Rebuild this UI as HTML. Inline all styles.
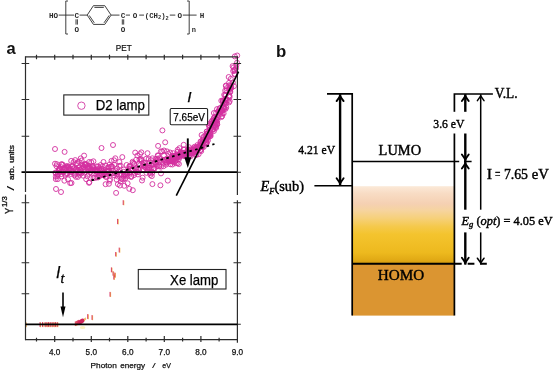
<!DOCTYPE html>
<html lang="en"><head><meta charset="utf-8"><title>PET photoemission yield</title>
<style>html,body{margin:0;padding:0;background:#fff}svg{display:block}.s{font-family:"Liberation Sans",sans-serif}.r{font-family:"Liberation Serif",serif}.m{font-family:"Liberation Mono",monospace;font-weight:bold}</style></head><body>
<svg width="553" height="370" viewBox="0 0 553 370">
<defs><linearGradient id="g" x1="0" y1="0" x2="0" y2="1"><stop offset="0" stop-color="#fbe9d8"/><stop offset="0.095" stop-color="#f8dcc4"/><stop offset="0.23" stop-color="#f5d0b2"/><stop offset="0.31" stop-color="#f6d4a0"/><stop offset="0.42" stop-color="#f6d078"/><stop offset="0.52" stop-color="#f5c94c"/><stop offset="0.62" stop-color="#f4c42e"/><stop offset="0.86" stop-color="#edb91e"/><stop offset="0.96" stop-color="#e0a814"/><stop offset="1" stop-color="#d69c10"/></linearGradient></defs>
<rect width="553" height="370" fill="#fff"/>
<g stroke="#2a2a2a" stroke-width="0.9" fill="none">
<path d="M58.7 15.1H74"/>
<path d="M68 1H65.8V34H68"/>
<path d="M79.5 15.1H87.2"/>
<path d="M87.2 15.1L93.4 5.7H104.8L111.1 15.1L104.8 24.4H93.4Z"/>
<path d="M94.4 7.4H103.8M109.2 15.4L104 22.8M89.2 15.4L94.3 22.8"/>
<path d="M111.1 15.1H119.5"/>
<path d="M76 19.3V24.6M77.4 19.3V24.6M122.3 19.3V24.6M123.7 19.3V24.6"/>
<path d="M125.8 15.1H130M139.2 15.1H144M169.8 15.1H175.3M182.8 15.1H196.6"/>
<path d="M187 1H189.2V34H187"/>
</g>
<g class="m" font-size="7.6" fill="#2a2a2a" text-anchor="middle">
<text x="53.6" y="17.6">HO</text>
<text x="76.7" y="17.6">C</text><text x="76.7" y="31.6">O</text>
<text x="123" y="17.6">C</text><text x="123" y="31.6">O</text>
<text x="135" y="17.6">O</text>
<text x="156.8" y="17.6" textLength="24" lengthAdjust="spacingAndGlyphs">(CH<tspan font-size="5.5" dy="1.5">2</tspan><tspan dy="-1.5">)</tspan><tspan font-size="5.5" dy="2">2</tspan></text>
<text x="179.9" y="17.6">O</text>
<text x="202" y="17.6">H</text>
<text x="193.8" y="32.4" font-size="7">n</text>
</g>
<g class="s" fill="#111">
<text x="6.5" y="53.8" font-size="16.5" font-weight="bold">a</text>
<text x="275.9" y="56.8" font-size="16.8" font-weight="bold">b</text>
<text x="123.8" y="50.6" font-size="8.2" text-anchor="middle" stroke="#111" stroke-width="0.2">PET</text>
<text x="54.7" y="354.6" font-size="8.2" text-anchor="middle" stroke="#111" stroke-width="0.25">4.0</text>
<text x="91.3" y="354.6" font-size="8.2" text-anchor="middle" stroke="#111" stroke-width="0.25">5.0</text>
<text x="127.8" y="354.6" font-size="8.2" text-anchor="middle" stroke="#111" stroke-width="0.25">6.0</text>
<text x="164.3" y="354.6" font-size="8.2" text-anchor="middle" stroke="#111" stroke-width="0.25">7.0</text>
<text x="200.9" y="354.6" font-size="8.2" text-anchor="middle" stroke="#111" stroke-width="0.25">8.0</text>
<text x="237.4" y="354.6" font-size="8.2" text-anchor="middle" stroke="#111" stroke-width="0.25">9.0</text>
<g font-size="8.1" stroke="#111" stroke-width="0.25">
<text x="90.5" y="367.9" textLength="26.3" lengthAdjust="spacingAndGlyphs">Photon</text>
<text x="120.2" y="367.9" textLength="24.9" lengthAdjust="spacingAndGlyphs">energy</text>
<text x="152" y="367.9" textLength="3.8" lengthAdjust="spacingAndGlyphs" stroke-width="0">/</text>
<text x="162.3" y="367.9" textLength="8.6" lengthAdjust="spacingAndGlyphs">eV</text>
</g>
<g transform="translate(13.6,213.9) rotate(-90)" stroke="#111" stroke-width="0.3">
<text x="-0.2" y="-1.1" font-size="10.4" textLength="6.3" lengthAdjust="spacingAndGlyphs">Y</text>
<text x="6.9" y="-7.1" font-size="8" textLength="10.8" lengthAdjust="spacingAndGlyphs">1/3</text>
<text x="23.1" y="-0.1" font-size="9.6" textLength="5" stroke-width="0" lengthAdjust="spacingAndGlyphs">/</text>
<text x="33.9" y="0" font-size="6.4" textLength="14" lengthAdjust="spacingAndGlyphs">arb.</text>
<text x="51.2" y="0" font-size="6.4" textLength="17.5" lengthAdjust="spacingAndGlyphs">units</text>
</g>
</g>
<g fill="none" stroke="#d4309f" stroke-width="0.9">
<circle cx="55.0" cy="163.7" r="2.5"/>
<circle cx="55.4" cy="172.6" r="2.5"/>
<circle cx="56.0" cy="173.2" r="2.5"/>
<circle cx="55.8" cy="176.7" r="2.5"/>
<circle cx="55.8" cy="179.1" r="2.5"/>
<circle cx="57.3" cy="176.0" r="2.5"/>
<circle cx="56.5" cy="166.2" r="2.5"/>
<circle cx="56.9" cy="164.2" r="2.5"/>
<circle cx="57.8" cy="179.1" r="2.5"/>
<circle cx="57.7" cy="174.4" r="2.5"/>
<circle cx="58.6" cy="170.4" r="2.5"/>
<circle cx="58.8" cy="171.1" r="2.5"/>
<circle cx="59.4" cy="172.7" r="2.5"/>
<circle cx="58.9" cy="169.6" r="2.5"/>
<circle cx="59.5" cy="168.1" r="2.5"/>
<circle cx="59.5" cy="169.6" r="2.5"/>
<circle cx="59.9" cy="169.1" r="2.5"/>
<circle cx="61.0" cy="167.1" r="2.5"/>
<circle cx="61.3" cy="164.3" r="2.5"/>
<circle cx="61.2" cy="174.1" r="2.5"/>
<circle cx="61.4" cy="176.4" r="2.5"/>
<circle cx="61.6" cy="171.2" r="2.5"/>
<circle cx="62.1" cy="164.3" r="2.5"/>
<circle cx="63.4" cy="172.1" r="2.5"/>
<circle cx="63.0" cy="171.4" r="2.5"/>
<circle cx="62.9" cy="164.9" r="2.5"/>
<circle cx="64.4" cy="180.7" r="2.5"/>
<circle cx="64.6" cy="151.9" r="2.5"/>
<circle cx="64.2" cy="169.1" r="2.5"/>
<circle cx="65.2" cy="168.7" r="2.5"/>
<circle cx="64.7" cy="168.5" r="2.5"/>
<circle cx="65.2" cy="174.8" r="2.5"/>
<circle cx="66.4" cy="166.4" r="2.5"/>
<circle cx="66.3" cy="167.5" r="2.5"/>
<circle cx="67.1" cy="173.1" r="2.5"/>
<circle cx="66.6" cy="168.1" r="2.5"/>
<circle cx="66.9" cy="174.1" r="2.5"/>
<circle cx="68.0" cy="179.3" r="2.5"/>
<circle cx="67.4" cy="166.1" r="2.5"/>
<circle cx="67.9" cy="167.2" r="2.5"/>
<circle cx="68.7" cy="169.5" r="2.5"/>
<circle cx="68.6" cy="166.6" r="2.5"/>
<circle cx="69.4" cy="170.4" r="2.5"/>
<circle cx="69.8" cy="168.7" r="2.5"/>
<circle cx="69.4" cy="168.4" r="2.5"/>
<circle cx="70.2" cy="183.1" r="2.5"/>
<circle cx="70.7" cy="174.0" r="2.5"/>
<circle cx="70.8" cy="172.1" r="2.5"/>
<circle cx="71.5" cy="183.0" r="2.5"/>
<circle cx="71.2" cy="160.9" r="2.5"/>
<circle cx="72.2" cy="171.9" r="2.5"/>
<circle cx="71.8" cy="171.1" r="2.5"/>
<circle cx="72.5" cy="166.6" r="2.5"/>
<circle cx="72.5" cy="166.0" r="2.5"/>
<circle cx="73.6" cy="162.1" r="2.5"/>
<circle cx="74.1" cy="168.2" r="2.5"/>
<circle cx="74.5" cy="175.3" r="2.5"/>
<circle cx="74.3" cy="168.2" r="2.5"/>
<circle cx="74.9" cy="173.7" r="2.5"/>
<circle cx="75.2" cy="160.1" r="2.5"/>
<circle cx="76.0" cy="169.1" r="2.5"/>
<circle cx="76.0" cy="169.4" r="2.5"/>
<circle cx="76.0" cy="163.9" r="2.5"/>
<circle cx="75.9" cy="176.8" r="2.5"/>
<circle cx="76.7" cy="170.9" r="2.5"/>
<circle cx="77.3" cy="169.5" r="2.5"/>
<circle cx="77.1" cy="163.2" r="2.5"/>
<circle cx="77.9" cy="176.9" r="2.5"/>
<circle cx="78.6" cy="161.6" r="2.5"/>
<circle cx="78.1" cy="169.9" r="2.5"/>
<circle cx="79.2" cy="167.4" r="2.5"/>
<circle cx="78.8" cy="173.3" r="2.5"/>
<circle cx="79.1" cy="171.8" r="2.5"/>
<circle cx="79.6" cy="174.8" r="2.5"/>
<circle cx="80.7" cy="172.2" r="2.5"/>
<circle cx="80.0" cy="170.0" r="2.5"/>
<circle cx="80.7" cy="158.4" r="2.5"/>
<circle cx="81.4" cy="173.3" r="2.5"/>
<circle cx="81.3" cy="168.7" r="2.5"/>
<circle cx="81.6" cy="160.5" r="2.5"/>
<circle cx="82.0" cy="164.4" r="2.5"/>
<circle cx="82.6" cy="165.7" r="2.5"/>
<circle cx="83.2" cy="167.4" r="2.5"/>
<circle cx="83.6" cy="166.6" r="2.5"/>
<circle cx="83.1" cy="175.7" r="2.5"/>
<circle cx="84.1" cy="155.6" r="2.5"/>
<circle cx="84.6" cy="169.5" r="2.5"/>
<circle cx="84.8" cy="172.7" r="2.5"/>
<circle cx="84.7" cy="164.6" r="2.5"/>
<circle cx="85.3" cy="164.1" r="2.5"/>
<circle cx="86.0" cy="164.0" r="2.5"/>
<circle cx="85.4" cy="164.9" r="2.5"/>
<circle cx="86.2" cy="179.2" r="2.5"/>
<circle cx="87.1" cy="167.4" r="2.5"/>
<circle cx="87.3" cy="165.9" r="2.5"/>
<circle cx="87.3" cy="176.2" r="2.5"/>
<circle cx="88.0" cy="168.9" r="2.5"/>
<circle cx="88.2" cy="168.0" r="2.5"/>
<circle cx="88.9" cy="173.9" r="2.5"/>
<circle cx="89.0" cy="182.8" r="2.5"/>
<circle cx="88.8" cy="165.9" r="2.5"/>
<circle cx="89.3" cy="182.2" r="2.5"/>
<circle cx="89.1" cy="162.0" r="2.5"/>
<circle cx="89.5" cy="168.2" r="2.5"/>
<circle cx="90.7" cy="172.2" r="2.5"/>
<circle cx="90.3" cy="167.9" r="2.5"/>
<circle cx="91.3" cy="162.2" r="2.5"/>
<circle cx="91.4" cy="170.2" r="2.5"/>
<circle cx="91.8" cy="173.4" r="2.5"/>
<circle cx="92.3" cy="170.4" r="2.5"/>
<circle cx="92.5" cy="166.8" r="2.5"/>
<circle cx="92.6" cy="166.0" r="2.5"/>
<circle cx="93.5" cy="178.0" r="2.5"/>
<circle cx="93.4" cy="161.3" r="2.5"/>
<circle cx="93.8" cy="167.8" r="2.5"/>
<circle cx="93.5" cy="169.6" r="2.5"/>
<circle cx="94.8" cy="177.8" r="2.5"/>
<circle cx="94.8" cy="169.9" r="2.5"/>
<circle cx="95.0" cy="170.5" r="2.5"/>
<circle cx="96.0" cy="169.3" r="2.5"/>
<circle cx="95.7" cy="170.5" r="2.5"/>
<circle cx="96.6" cy="177.5" r="2.5"/>
<circle cx="96.6" cy="166.4" r="2.5"/>
<circle cx="96.4" cy="172.0" r="2.5"/>
<circle cx="96.8" cy="171.5" r="2.5"/>
<circle cx="97.3" cy="170.1" r="2.5"/>
<circle cx="98.1" cy="166.5" r="2.5"/>
<circle cx="98.2" cy="177.4" r="2.5"/>
<circle cx="98.4" cy="171.3" r="2.5"/>
<circle cx="98.8" cy="175.0" r="2.5"/>
<circle cx="99.4" cy="168.1" r="2.5"/>
<circle cx="99.6" cy="170.7" r="2.5"/>
<circle cx="99.6" cy="175.9" r="2.5"/>
<circle cx="100.6" cy="165.1" r="2.5"/>
<circle cx="101.1" cy="175.3" r="2.5"/>
<circle cx="101.5" cy="168.5" r="2.5"/>
<circle cx="101.5" cy="173.6" r="2.5"/>
<circle cx="101.1" cy="169.4" r="2.5"/>
<circle cx="101.5" cy="174.2" r="2.5"/>
<circle cx="102.5" cy="166.3" r="2.5"/>
<circle cx="103.1" cy="175.1" r="2.5"/>
<circle cx="102.5" cy="171.8" r="2.5"/>
<circle cx="103.5" cy="162.0" r="2.5"/>
<circle cx="103.1" cy="171.0" r="2.5"/>
<circle cx="104.0" cy="172.6" r="2.5"/>
<circle cx="103.9" cy="172.4" r="2.5"/>
<circle cx="105.2" cy="172.9" r="2.5"/>
<circle cx="104.5" cy="174.9" r="2.5"/>
<circle cx="105.6" cy="184.2" r="2.5"/>
<circle cx="105.6" cy="176.7" r="2.5"/>
<circle cx="105.4" cy="165.5" r="2.5"/>
<circle cx="106.8" cy="170.9" r="2.5"/>
<circle cx="106.6" cy="174.0" r="2.5"/>
<circle cx="106.6" cy="177.0" r="2.5"/>
<circle cx="107.7" cy="170.5" r="2.5"/>
<circle cx="108.1" cy="171.4" r="2.5"/>
<circle cx="108.0" cy="167.5" r="2.5"/>
<circle cx="108.7" cy="167.3" r="2.5"/>
<circle cx="109.1" cy="170.8" r="2.5"/>
<circle cx="108.9" cy="183.8" r="2.5"/>
<circle cx="109.7" cy="180.7" r="2.5"/>
<circle cx="109.6" cy="164.5" r="2.5"/>
<circle cx="110.0" cy="179.3" r="2.5"/>
<circle cx="110.3" cy="172.9" r="2.5"/>
<circle cx="111.4" cy="166.6" r="2.5"/>
<circle cx="111.0" cy="166.6" r="2.5"/>
<circle cx="111.5" cy="160.9" r="2.5"/>
<circle cx="112.2" cy="166.5" r="2.5"/>
<circle cx="111.8" cy="173.5" r="2.5"/>
<circle cx="113.0" cy="145.0" r="2.5"/>
<circle cx="112.8" cy="170.6" r="2.5"/>
<circle cx="113.0" cy="173.3" r="2.5"/>
<circle cx="113.9" cy="175.2" r="2.5"/>
<circle cx="114.3" cy="164.8" r="2.5"/>
<circle cx="114.1" cy="160.3" r="2.5"/>
<circle cx="115.3" cy="158.3" r="2.5"/>
<circle cx="115.4" cy="173.4" r="2.5"/>
<circle cx="115.8" cy="170.6" r="2.5"/>
<circle cx="116.1" cy="192.9" r="2.5"/>
<circle cx="116.7" cy="179.7" r="2.5"/>
<circle cx="117.0" cy="168.4" r="2.5"/>
<circle cx="117.6" cy="176.5" r="2.5"/>
<circle cx="117.1" cy="174.1" r="2.5"/>
<circle cx="118.4" cy="171.7" r="2.5"/>
<circle cx="117.9" cy="184.1" r="2.5"/>
<circle cx="119.4" cy="162.0" r="2.5"/>
<circle cx="119.2" cy="174.6" r="2.5"/>
<circle cx="119.3" cy="165.9" r="2.5"/>
<circle cx="119.9" cy="185.5" r="2.5"/>
<circle cx="120.7" cy="165.7" r="2.5"/>
<circle cx="120.7" cy="181.5" r="2.5"/>
<circle cx="120.6" cy="174.7" r="2.5"/>
<circle cx="121.7" cy="178.8" r="2.5"/>
<circle cx="121.6" cy="178.7" r="2.5"/>
<circle cx="122.3" cy="157.1" r="2.5"/>
<circle cx="123.2" cy="179.5" r="2.5"/>
<circle cx="123.5" cy="171.8" r="2.5"/>
<circle cx="123.5" cy="176.2" r="2.5"/>
<circle cx="123.8" cy="169.6" r="2.5"/>
<circle cx="124.3" cy="185.8" r="2.5"/>
<circle cx="125.1" cy="174.2" r="2.5"/>
<circle cx="125.4" cy="178.2" r="2.5"/>
<circle cx="125.2" cy="174.1" r="2.5"/>
<circle cx="125.2" cy="174.3" r="2.5"/>
<circle cx="126.3" cy="175.1" r="2.5"/>
<circle cx="126.6" cy="173.3" r="2.5"/>
<circle cx="126.6" cy="165.0" r="2.5"/>
<circle cx="127.6" cy="172.4" r="2.5"/>
<circle cx="127.7" cy="176.1" r="2.5"/>
<circle cx="127.6" cy="183.3" r="2.5"/>
<circle cx="128.2" cy="170.6" r="2.5"/>
<circle cx="129.3" cy="188.8" r="2.5"/>
<circle cx="129.6" cy="166.0" r="2.5"/>
<circle cx="129.3" cy="166.8" r="2.5"/>
<circle cx="129.3" cy="172.5" r="2.5"/>
<circle cx="130.2" cy="168.7" r="2.5"/>
<circle cx="130.1" cy="166.4" r="2.5"/>
<circle cx="131.2" cy="177.0" r="2.5"/>
<circle cx="131.6" cy="169.3" r="2.5"/>
<circle cx="131.3" cy="176.3" r="2.5"/>
<circle cx="131.7" cy="169.6" r="2.5"/>
<circle cx="132.6" cy="161.8" r="2.5"/>
<circle cx="132.8" cy="190.2" r="2.5"/>
<circle cx="133.0" cy="162.9" r="2.5"/>
<circle cx="134.1" cy="163.9" r="2.5"/>
<circle cx="133.9" cy="175.2" r="2.5"/>
<circle cx="134.3" cy="164.1" r="2.5"/>
<circle cx="134.9" cy="172.8" r="2.5"/>
<circle cx="135.2" cy="152.6" r="2.5"/>
<circle cx="135.9" cy="168.3" r="2.5"/>
<circle cx="135.9" cy="169.5" r="2.5"/>
<circle cx="136.4" cy="171.7" r="2.5"/>
<circle cx="136.2" cy="159.7" r="2.5"/>
<circle cx="137.4" cy="155.6" r="2.5"/>
<circle cx="137.9" cy="174.4" r="2.5"/>
<circle cx="138.0" cy="172.2" r="2.5"/>
<circle cx="137.9" cy="169.1" r="2.5"/>
<circle cx="138.9" cy="164.1" r="2.5"/>
<circle cx="138.8" cy="169.9" r="2.5"/>
<circle cx="139.5" cy="159.5" r="2.5"/>
<circle cx="140.0" cy="154.1" r="2.5"/>
<circle cx="140.0" cy="165.2" r="2.5"/>
<circle cx="140.8" cy="159.3" r="2.5"/>
<circle cx="141.3" cy="152.4" r="2.5"/>
<circle cx="141.5" cy="161.0" r="2.5"/>
<circle cx="141.5" cy="159.4" r="2.5"/>
<circle cx="142.6" cy="177.7" r="2.5"/>
<circle cx="142.0" cy="180.5" r="2.5"/>
<circle cx="143.3" cy="165.4" r="2.5"/>
<circle cx="142.9" cy="169.2" r="2.5"/>
<circle cx="143.1" cy="164.2" r="2.5"/>
<circle cx="143.9" cy="162.8" r="2.5"/>
<circle cx="143.8" cy="169.8" r="2.5"/>
<circle cx="144.3" cy="167.0" r="2.5"/>
<circle cx="144.7" cy="166.4" r="2.5"/>
<circle cx="145.2" cy="162.7" r="2.5"/>
<circle cx="145.9" cy="167.3" r="2.5"/>
<circle cx="146.2" cy="158.8" r="2.5"/>
<circle cx="146.4" cy="172.8" r="2.5"/>
<circle cx="147.5" cy="153.2" r="2.5"/>
<circle cx="147.9" cy="167.3" r="2.5"/>
<circle cx="147.6" cy="169.6" r="2.5"/>
<circle cx="148.7" cy="159.0" r="2.5"/>
<circle cx="148.1" cy="165.7" r="2.5"/>
<circle cx="149.2" cy="163.0" r="2.5"/>
<circle cx="149.3" cy="167.8" r="2.5"/>
<circle cx="149.3" cy="167.8" r="2.5"/>
<circle cx="150.0" cy="173.0" r="2.5"/>
<circle cx="150.4" cy="174.9" r="2.5"/>
<circle cx="151.0" cy="165.6" r="2.5"/>
<circle cx="151.5" cy="168.1" r="2.5"/>
<circle cx="151.2" cy="160.2" r="2.5"/>
<circle cx="151.8" cy="176.1" r="2.5"/>
<circle cx="152.3" cy="172.7" r="2.5"/>
<circle cx="152.4" cy="158.3" r="2.5"/>
<circle cx="152.4" cy="184.1" r="2.5"/>
<circle cx="153.3" cy="168.5" r="2.5"/>
<circle cx="154.0" cy="168.3" r="2.5"/>
<circle cx="153.7" cy="164.1" r="2.5"/>
<circle cx="154.6" cy="168.6" r="2.5"/>
<circle cx="154.6" cy="162.2" r="2.5"/>
<circle cx="155.6" cy="159.1" r="2.5"/>
<circle cx="155.3" cy="162.9" r="2.5"/>
<circle cx="155.4" cy="162.3" r="2.5"/>
<circle cx="156.7" cy="162.1" r="2.5"/>
<circle cx="156.1" cy="164.0" r="2.5"/>
<circle cx="156.9" cy="160.6" r="2.5"/>
<circle cx="157.0" cy="166.1" r="2.5"/>
<circle cx="157.2" cy="158.7" r="2.5"/>
<circle cx="157.7" cy="155.4" r="2.5"/>
<circle cx="158.1" cy="145.9" r="2.5"/>
<circle cx="158.2" cy="155.7" r="2.5"/>
<circle cx="159.2" cy="166.4" r="2.5"/>
<circle cx="159.2" cy="165.0" r="2.5"/>
<circle cx="159.4" cy="158.2" r="2.5"/>
<circle cx="159.6" cy="161.5" r="2.5"/>
<circle cx="160.4" cy="185.3" r="2.5"/>
<circle cx="161.0" cy="173.4" r="2.5"/>
<circle cx="161.0" cy="166.7" r="2.5"/>
<circle cx="160.9" cy="151.4" r="2.5"/>
<circle cx="162.2" cy="151.5" r="2.5"/>
<circle cx="162.4" cy="130.4" r="2.5"/>
<circle cx="162.8" cy="159.9" r="2.5"/>
<circle cx="162.8" cy="163.5" r="2.5"/>
<circle cx="163.5" cy="166.2" r="2.5"/>
<circle cx="164.0" cy="155.4" r="2.5"/>
<circle cx="164.0" cy="150.5" r="2.5"/>
<circle cx="164.7" cy="159.8" r="2.5"/>
<circle cx="165.2" cy="142.3" r="2.5"/>
<circle cx="165.7" cy="159.9" r="2.5"/>
<circle cx="165.2" cy="161.7" r="2.5"/>
<circle cx="166.1" cy="164.6" r="2.5"/>
<circle cx="166.2" cy="162.5" r="2.5"/>
<circle cx="167.1" cy="158.6" r="2.5"/>
<circle cx="167.0" cy="162.7" r="2.5"/>
<circle cx="167.0" cy="151.4" r="2.5"/>
<circle cx="167.8" cy="180.6" r="2.5"/>
<circle cx="168.4" cy="159.0" r="2.5"/>
<circle cx="168.4" cy="160.9" r="2.5"/>
<circle cx="168.3" cy="153.8" r="2.5"/>
<circle cx="168.7" cy="161.4" r="2.5"/>
<circle cx="170.0" cy="160.1" r="2.5"/>
<circle cx="170.1" cy="152.5" r="2.5"/>
<circle cx="170.3" cy="161.0" r="2.5"/>
<circle cx="170.4" cy="164.3" r="2.5"/>
<circle cx="170.5" cy="158.4" r="2.5"/>
<circle cx="170.6" cy="159.2" r="2.5"/>
<circle cx="170.9" cy="160.1" r="2.5"/>
<circle cx="170.9" cy="160.7" r="2.5"/>
<circle cx="171.7" cy="161.2" r="2.5"/>
<circle cx="172.1" cy="155.8" r="2.5"/>
<circle cx="172.4" cy="164.5" r="2.5"/>
<circle cx="172.7" cy="161.2" r="2.5"/>
<circle cx="172.5" cy="157.6" r="2.5"/>
<circle cx="172.8" cy="159.4" r="2.5"/>
<circle cx="173.5" cy="156.3" r="2.5"/>
<circle cx="173.8" cy="160.2" r="2.5"/>
<circle cx="173.6" cy="162.3" r="2.5"/>
<circle cx="173.2" cy="153.2" r="2.5"/>
<circle cx="173.9" cy="159.5" r="2.5"/>
<circle cx="174.5" cy="156.7" r="2.5"/>
<circle cx="174.2" cy="157.5" r="2.5"/>
<circle cx="174.2" cy="156.0" r="2.5"/>
<circle cx="175.5" cy="161.0" r="2.5"/>
<circle cx="175.6" cy="158.1" r="2.5"/>
<circle cx="175.7" cy="155.4" r="2.5"/>
<circle cx="176.0" cy="157.4" r="2.5"/>
<circle cx="176.0" cy="156.2" r="2.5"/>
<circle cx="175.9" cy="163.3" r="2.5"/>
<circle cx="175.9" cy="156.5" r="2.5"/>
<circle cx="176.5" cy="160.0" r="2.5"/>
<circle cx="176.3" cy="154.7" r="2.5"/>
<circle cx="177.1" cy="157.5" r="2.5"/>
<circle cx="177.9" cy="151.6" r="2.5"/>
<circle cx="178.1" cy="156.5" r="2.5"/>
<circle cx="177.5" cy="163.3" r="2.5"/>
<circle cx="177.7" cy="149.8" r="2.5"/>
<circle cx="178.9" cy="164.0" r="2.5"/>
<circle cx="179.0" cy="155.0" r="2.5"/>
<circle cx="178.3" cy="154.9" r="2.5"/>
<circle cx="179.5" cy="148.2" r="2.5"/>
<circle cx="178.8" cy="159.2" r="2.5"/>
<circle cx="179.0" cy="157.3" r="2.5"/>
<circle cx="179.5" cy="154.7" r="2.5"/>
<circle cx="179.7" cy="155.7" r="2.5"/>
<circle cx="180.6" cy="156.4" r="2.5"/>
<circle cx="180.6" cy="153.3" r="2.5"/>
<circle cx="180.5" cy="152.0" r="2.5"/>
<circle cx="181.1" cy="153.5" r="2.5"/>
<circle cx="181.8" cy="153.7" r="2.5"/>
<circle cx="180.9" cy="152.7" r="2.5"/>
<circle cx="181.4" cy="154.4" r="2.5"/>
<circle cx="181.7" cy="155.0" r="2.5"/>
<circle cx="181.9" cy="153.1" r="2.5"/>
<circle cx="182.9" cy="153.5" r="2.5"/>
<circle cx="182.1" cy="154.8" r="2.5"/>
<circle cx="183.4" cy="154.5" r="2.5"/>
<circle cx="182.7" cy="152.6" r="2.5"/>
<circle cx="183.5" cy="153.3" r="2.5"/>
<circle cx="183.6" cy="149.5" r="2.5"/>
<circle cx="183.9" cy="155.7" r="2.5"/>
<circle cx="183.7" cy="144.8" r="2.5"/>
<circle cx="184.0" cy="149.8" r="2.5"/>
<circle cx="184.9" cy="156.1" r="2.5"/>
<circle cx="184.8" cy="154.2" r="2.5"/>
<circle cx="185.1" cy="152.5" r="2.5"/>
<circle cx="185.5" cy="156.1" r="2.5"/>
<circle cx="186.0" cy="154.2" r="2.5"/>
<circle cx="185.8" cy="153.7" r="2.5"/>
<circle cx="185.9" cy="153.8" r="2.5"/>
<circle cx="186.7" cy="153.6" r="2.5"/>
<circle cx="186.5" cy="152.6" r="2.5"/>
<circle cx="186.5" cy="154.9" r="2.5"/>
<circle cx="186.7" cy="154.2" r="2.5"/>
<circle cx="187.3" cy="151.7" r="2.5"/>
<circle cx="187.8" cy="152.8" r="2.5"/>
<circle cx="187.9" cy="152.9" r="2.5"/>
<circle cx="188.3" cy="149.5" r="2.5"/>
<circle cx="187.8" cy="151.3" r="2.5"/>
<circle cx="187.9" cy="150.1" r="2.5"/>
<circle cx="188.2" cy="153.0" r="2.5"/>
<circle cx="189.2" cy="147.3" r="2.5"/>
<circle cx="188.7" cy="152.7" r="2.5"/>
<circle cx="189.1" cy="156.1" r="2.5"/>
<circle cx="190.2" cy="152.7" r="2.5"/>
<circle cx="190.1" cy="153.1" r="2.5"/>
<circle cx="189.8" cy="152.1" r="2.5"/>
<circle cx="190.8" cy="154.3" r="2.5"/>
<circle cx="190.7" cy="149.3" r="2.5"/>
<circle cx="190.7" cy="156.2" r="2.5"/>
<circle cx="191.3" cy="153.4" r="2.5"/>
<circle cx="191.4" cy="152.3" r="2.5"/>
<circle cx="191.9" cy="149.9" r="2.5"/>
<circle cx="192.1" cy="152.0" r="2.5"/>
<circle cx="192.1" cy="150.9" r="2.5"/>
<circle cx="191.9" cy="152.4" r="2.5"/>
<circle cx="192.4" cy="149.8" r="2.5"/>
<circle cx="192.9" cy="151.6" r="2.5"/>
<circle cx="192.4" cy="151.7" r="2.5"/>
<circle cx="193.0" cy="152.8" r="2.5"/>
<circle cx="193.2" cy="152.2" r="2.5"/>
<circle cx="194.2" cy="151.1" r="2.5"/>
<circle cx="193.5" cy="150.7" r="2.5"/>
<circle cx="194.0" cy="152.5" r="2.5"/>
<circle cx="193.8" cy="150.1" r="2.5"/>
<circle cx="194.5" cy="146.8" r="2.5"/>
<circle cx="195.2" cy="151.7" r="2.5"/>
<circle cx="194.6" cy="149.4" r="2.5"/>
<circle cx="194.9" cy="150.4" r="2.5"/>
<circle cx="195.0" cy="150.8" r="2.5"/>
<circle cx="195.4" cy="148.2" r="2.5"/>
<circle cx="195.8" cy="151.2" r="2.5"/>
<circle cx="196.0" cy="149.5" r="2.5"/>
<circle cx="196.8" cy="149.0" r="2.5"/>
<circle cx="196.5" cy="147.0" r="2.5"/>
<circle cx="195.8" cy="154.9" r="2.5"/>
<circle cx="194.4" cy="148.0" r="2.5"/>
<circle cx="194.5" cy="151.7" r="2.5"/>
<circle cx="199.6" cy="145.8" r="2.5"/>
<circle cx="200.8" cy="145.4" r="2.5"/>
<circle cx="200.6" cy="147.3" r="2.5"/>
<circle cx="196.5" cy="154.7" r="2.5"/>
<circle cx="201.3" cy="146.6" r="2.5"/>
<circle cx="200.9" cy="143.2" r="2.5"/>
<circle cx="196.3" cy="149.2" r="2.5"/>
<circle cx="198.6" cy="154.2" r="2.5"/>
<circle cx="198.5" cy="147.3" r="2.5"/>
<circle cx="198.4" cy="149.2" r="2.5"/>
<circle cx="197.5" cy="145.0" r="2.5"/>
<circle cx="199.2" cy="148.1" r="2.5"/>
<circle cx="201.1" cy="145.6" r="2.5"/>
<circle cx="198.6" cy="148.0" r="2.5"/>
<circle cx="200.0" cy="150.4" r="2.5"/>
<circle cx="198.5" cy="149.1" r="2.5"/>
<circle cx="201.2" cy="141.4" r="2.5"/>
<circle cx="202.3" cy="143.4" r="2.5"/>
<circle cx="200.4" cy="150.2" r="2.5"/>
<circle cx="198.7" cy="146.5" r="2.5"/>
<circle cx="201.6" cy="144.6" r="2.5"/>
<circle cx="202.4" cy="146.1" r="2.5"/>
<circle cx="200.5" cy="141.6" r="2.5"/>
<circle cx="199.3" cy="145.5" r="2.5"/>
<circle cx="202.8" cy="139.7" r="2.5"/>
<circle cx="201.2" cy="151.1" r="2.5"/>
<circle cx="202.6" cy="142.7" r="2.5"/>
<circle cx="203.8" cy="141.4" r="2.5"/>
<circle cx="203.7" cy="147.0" r="2.5"/>
<circle cx="206.2" cy="142.0" r="2.5"/>
<circle cx="204.4" cy="143.5" r="2.5"/>
<circle cx="203.3" cy="136.9" r="2.5"/>
<circle cx="206.1" cy="139.3" r="2.5"/>
<circle cx="206.6" cy="143.4" r="2.5"/>
<circle cx="201.6" cy="135.0" r="2.5"/>
<circle cx="202.4" cy="147.0" r="2.5"/>
<circle cx="204.0" cy="137.3" r="2.5"/>
<circle cx="208.0" cy="140.3" r="2.5"/>
<circle cx="203.6" cy="141.6" r="2.5"/>
<circle cx="206.6" cy="141.9" r="2.5"/>
<circle cx="205.9" cy="139.5" r="2.5"/>
<circle cx="205.2" cy="139.3" r="2.5"/>
<circle cx="207.0" cy="139.1" r="2.5"/>
<circle cx="206.5" cy="143.1" r="2.5"/>
<circle cx="208.5" cy="134.5" r="2.5"/>
<circle cx="209.5" cy="134.1" r="2.5"/>
<circle cx="209.2" cy="135.5" r="2.5"/>
<circle cx="205.9" cy="140.2" r="2.5"/>
<circle cx="208.4" cy="135.3" r="2.5"/>
<circle cx="210.3" cy="130.2" r="2.5"/>
<circle cx="208.4" cy="136.9" r="2.5"/>
<circle cx="207.8" cy="133.4" r="2.5"/>
<circle cx="206.7" cy="131.6" r="2.5"/>
<circle cx="209.8" cy="133.3" r="2.5"/>
<circle cx="206.9" cy="131.5" r="2.5"/>
<circle cx="207.6" cy="133.4" r="2.5"/>
<circle cx="206.5" cy="135.7" r="2.5"/>
<circle cx="206.3" cy="137.6" r="2.5"/>
<circle cx="210.5" cy="134.6" r="2.5"/>
<circle cx="207.0" cy="133.3" r="2.5"/>
<circle cx="209.5" cy="125.6" r="2.5"/>
<circle cx="207.7" cy="133.8" r="2.5"/>
<circle cx="207.3" cy="136.8" r="2.5"/>
<circle cx="208.7" cy="125.0" r="2.5"/>
<circle cx="209.8" cy="123.5" r="2.5"/>
<circle cx="212.0" cy="129.9" r="2.5"/>
<circle cx="209.8" cy="129.8" r="2.5"/>
<circle cx="210.0" cy="135.9" r="2.5"/>
<circle cx="213.3" cy="129.6" r="2.5"/>
<circle cx="211.9" cy="121.1" r="2.5"/>
<circle cx="212.4" cy="122.9" r="2.5"/>
<circle cx="213.9" cy="131.0" r="2.5"/>
<circle cx="211.3" cy="128.3" r="2.5"/>
<circle cx="213.3" cy="125.3" r="2.5"/>
<circle cx="209.4" cy="127.2" r="2.5"/>
<circle cx="213.2" cy="129.1" r="2.5"/>
<circle cx="210.6" cy="136.1" r="2.5"/>
<circle cx="214.2" cy="121.9" r="2.5"/>
<circle cx="212.6" cy="120.5" r="2.5"/>
<circle cx="216.1" cy="127.8" r="2.5"/>
<circle cx="215.0" cy="125.9" r="2.5"/>
<circle cx="211.5" cy="124.2" r="2.5"/>
<circle cx="215.5" cy="127.1" r="2.5"/>
<circle cx="217.3" cy="124.4" r="2.5"/>
<circle cx="211.5" cy="125.7" r="2.5"/>
<circle cx="214.9" cy="125.2" r="2.5"/>
<circle cx="213.7" cy="118.5" r="2.5"/>
<circle cx="216.9" cy="122.3" r="2.5"/>
<circle cx="214.6" cy="123.2" r="2.5"/>
<circle cx="216.2" cy="118.3" r="2.5"/>
<circle cx="215.0" cy="121.8" r="2.5"/>
<circle cx="217.0" cy="109.1" r="2.5"/>
<circle cx="213.9" cy="113.0" r="2.5"/>
<circle cx="214.2" cy="117.4" r="2.5"/>
<circle cx="214.9" cy="126.4" r="2.5"/>
<circle cx="216.6" cy="124.5" r="2.5"/>
<circle cx="213.9" cy="120.9" r="2.5"/>
<circle cx="217.4" cy="120.3" r="2.5"/>
<circle cx="215.8" cy="120.9" r="2.5"/>
<circle cx="215.8" cy="121.5" r="2.5"/>
<circle cx="216.1" cy="112.9" r="2.5"/>
<circle cx="215.1" cy="116.7" r="2.5"/>
<circle cx="216.9" cy="123.6" r="2.5"/>
<circle cx="215.6" cy="118.8" r="2.5"/>
<circle cx="221.5" cy="117.0" r="2.5"/>
<circle cx="216.8" cy="118.8" r="2.5"/>
<circle cx="218.3" cy="117.3" r="2.5"/>
<circle cx="220.9" cy="110.4" r="2.5"/>
<circle cx="219.6" cy="112.4" r="2.5"/>
<circle cx="220.4" cy="113.9" r="2.5"/>
<circle cx="222.4" cy="110.3" r="2.5"/>
<circle cx="222.1" cy="110.0" r="2.5"/>
<circle cx="222.1" cy="116.2" r="2.5"/>
<circle cx="221.6" cy="111.3" r="2.5"/>
<circle cx="218.4" cy="111.4" r="2.5"/>
<circle cx="218.3" cy="111.5" r="2.5"/>
<circle cx="222.4" cy="113.6" r="2.5"/>
<circle cx="219.9" cy="111.5" r="2.5"/>
<circle cx="219.4" cy="108.8" r="2.5"/>
<circle cx="224.3" cy="108.9" r="2.5"/>
<circle cx="223.6" cy="113.4" r="2.5"/>
<circle cx="223.7" cy="108.4" r="2.5"/>
<circle cx="223.9" cy="107.2" r="2.5"/>
<circle cx="224.3" cy="103.1" r="2.5"/>
<circle cx="220.0" cy="108.0" r="2.5"/>
<circle cx="225.4" cy="94.6" r="2.5"/>
<circle cx="221.3" cy="100.7" r="2.5"/>
<circle cx="225.6" cy="108.9" r="2.5"/>
<circle cx="221.5" cy="110.1" r="2.5"/>
<circle cx="222.7" cy="105.2" r="2.5"/>
<circle cx="225.6" cy="100.0" r="2.5"/>
<circle cx="223.0" cy="107.8" r="2.5"/>
<circle cx="222.7" cy="100.6" r="2.5"/>
<circle cx="226.8" cy="99.8" r="2.5"/>
<circle cx="223.4" cy="101.4" r="2.5"/>
<circle cx="226.1" cy="103.3" r="2.5"/>
<circle cx="225.1" cy="102.8" r="2.5"/>
<circle cx="226.2" cy="107.2" r="2.5"/>
<circle cx="223.0" cy="101.2" r="2.5"/>
<circle cx="224.5" cy="101.6" r="2.5"/>
<circle cx="225.7" cy="98.9" r="2.5"/>
<circle cx="225.2" cy="99.2" r="2.5"/>
<circle cx="228.8" cy="96.4" r="2.5"/>
<circle cx="224.4" cy="102.6" r="2.5"/>
<circle cx="228.0" cy="100.2" r="2.5"/>
<circle cx="224.2" cy="94.8" r="2.5"/>
<circle cx="229.7" cy="101.0" r="2.5"/>
<circle cx="225.3" cy="95.9" r="2.5"/>
<circle cx="225.2" cy="90.6" r="2.5"/>
<circle cx="226.0" cy="98.8" r="2.5"/>
<circle cx="226.5" cy="90.6" r="2.5"/>
<circle cx="225.9" cy="85.5" r="2.5"/>
<circle cx="225.9" cy="86.1" r="2.5"/>
<circle cx="229.1" cy="102.4" r="2.5"/>
<circle cx="226.7" cy="88.2" r="2.5"/>
<circle cx="229.4" cy="95.7" r="2.5"/>
<circle cx="229.6" cy="97.0" r="2.5"/>
<circle cx="229.1" cy="85.3" r="2.5"/>
<circle cx="231.3" cy="88.0" r="2.5"/>
<circle cx="230.6" cy="88.3" r="2.5"/>
<circle cx="229.1" cy="82.8" r="2.5"/>
<circle cx="229.1" cy="89.6" r="2.5"/>
<circle cx="230.5" cy="87.9" r="2.5"/>
<circle cx="230.3" cy="92.0" r="2.5"/>
<circle cx="230.1" cy="91.5" r="2.5"/>
<circle cx="231.2" cy="86.4" r="2.5"/>
<circle cx="228.7" cy="77.0" r="2.5"/>
<circle cx="230.8" cy="78.8" r="2.5"/>
<circle cx="230.1" cy="89.9" r="2.5"/>
<circle cx="232.9" cy="82.5" r="2.5"/>
<circle cx="233.9" cy="86.2" r="2.5"/>
<circle cx="230.4" cy="85.5" r="2.5"/>
<circle cx="234.5" cy="73.9" r="2.5"/>
<circle cx="234.5" cy="70.8" r="2.5"/>
<circle cx="235.1" cy="74.4" r="2.5"/>
<circle cx="233.2" cy="71.0" r="2.5"/>
<circle cx="234.4" cy="69.7" r="2.5"/>
<circle cx="236.0" cy="68.4" r="2.5"/>
<circle cx="236.3" cy="65.5" r="2.5"/>
<circle cx="232.6" cy="66.1" r="2.5"/>
<circle cx="233.5" cy="67.4" r="2.5"/>
<circle cx="237.0" cy="62.7" r="2.5"/>
<circle cx="234.8" cy="56.4" r="2.5"/>
<circle cx="55.0" cy="149.0" r="2.5"/>
<circle cx="101.5" cy="148.0" r="2.5"/>
<circle cx="56.0" cy="189.0" r="2.5"/>
<circle cx="61.0" cy="192.0" r="2.5"/>
<circle cx="237.2" cy="55.5" r="2.5"/>
</g>
<path d="M21.5 172.2H237.4" stroke="#000" stroke-width="1.8"/>
<g stroke-width="0.9">
<path d="M40.6 322.4V327.2" stroke="#f2b43c"/>
<path d="M40.0 322.1V326.9" stroke="#d62a5a"/>
<path d="M43.1 322.4V327.2" stroke="#f2b43c"/>
<path d="M42.5 322.1V326.9" stroke="#d62a5a"/>
<path d="M45.6 322.4V327.2" stroke="#f2b43c"/>
<path d="M45.0 322.1V326.9" stroke="#d62a5a"/>
<path d="M47.4 322.4V327.2" stroke="#f2b43c"/>
<path d="M46.8 322.1V326.9" stroke="#d62a5a"/>
<path d="M49.1 322.4V327.2" stroke="#f2b43c"/>
<path d="M48.5 322.1V326.9" stroke="#d62a5a"/>
<path d="M50.8 322.4V327.2" stroke="#f2b43c"/>
<path d="M50.2 322.1V326.9" stroke="#d62a5a"/>
<path d="M52.6 322.4V327.2" stroke="#f2b43c"/>
<path d="M52.0 322.1V326.9" stroke="#d62a5a"/>
<path d="M54.4 322.4V327.2" stroke="#f2b43c"/>
<path d="M53.8 322.1V326.9" stroke="#d62a5a"/>
<path d="M56.1 322.4V327.2" stroke="#f2b43c"/>
<path d="M55.5 322.1V326.9" stroke="#d62a5a"/>
<path d="M57.9 322.4V327.2" stroke="#f2b43c"/>
<path d="M57.3 322.1V326.9" stroke="#d62a5a"/>
<path d="M75.9 321.7V326.1" stroke="#f2b43c"/>
<path d="M75.3 321.4V325.8" stroke="#d62a5a"/>
<path d="M77.0 321.2V325.6" stroke="#f2b43c"/>
<path d="M76.4 320.9V325.3" stroke="#d62a5a"/>
<path d="M78.1 320.7V325.1" stroke="#f2b43c"/>
<path d="M77.5 320.4V324.8" stroke="#d62a5a"/>
<path d="M79.2 320.2V324.6" stroke="#f2b43c"/>
<path d="M78.6 319.9V324.3" stroke="#d62a5a"/>
<path d="M88.3 314.4V319.2" stroke="#f2b43c"/>
<path d="M87.7 314.1V318.9" stroke="#d62a5a"/>
<path d="M92.6 315.4V320.2" stroke="#f2b43c"/>
<path d="M92.0 315.1V319.9" stroke="#d62a5a"/>
<path d="M110.6 292.2V297.0" stroke="#f2b43c"/>
<path d="M110.0 291.9V296.7" stroke="#d62a5a"/>
<path d="M114.4 274.7V279.9" stroke="#f2b43c"/>
<path d="M113.8 274.4V279.6" stroke="#d62a5a"/>
<path d="M112.0 267.7V272.5" stroke="#f2b43c"/>
<path d="M111.4 267.4V272.2" stroke="#d62a5a"/>
<path d="M115.4 272.9V277.7" stroke="#f2b43c"/>
<path d="M114.8 272.6V277.4" stroke="#d62a5a"/>
<path d="M113.6 271.6V276.0" stroke="#f2b43c"/>
<path d="M113.0 271.3V275.7" stroke="#d62a5a"/>
<path d="M116.3 252.3V256.7" stroke="#f2b43c"/>
<path d="M115.7 252.0V256.4" stroke="#d62a5a"/>
<path d="M119.8 247.9V252.7" stroke="#f2b43c"/>
<path d="M119.2 247.6V252.4" stroke="#d62a5a"/>
<path d="M118.2 219.2V224.4" stroke="#f2b43c"/>
<path d="M117.6 218.9V224.1" stroke="#d62a5a"/>
<path d="M123.8 200.5V205.3" stroke="#f2b43c"/>
<path d="M123.2 200.2V205.0" stroke="#d62a5a"/>
<path d="M26.2 322.4V327.2" stroke="#f2b43c"/>
<path d="M25.6 322.1V326.9" stroke="#d62a5a"/>
</g>
<ellipse cx="82.6" cy="327.6" rx="2.8" ry="1.5" fill="#fdf2bf"/>
<ellipse cx="81.4" cy="321.3" rx="3.5" ry="2.2" transform="rotate(-32 81.4 321.3)" fill="#d0245e"/>
<path d="M84.6 318.2V321M85.6 317.6V320" stroke="#f0a83c" stroke-width="0.8"/>
<g stroke="#2c2c2c" stroke-width="1.2" fill="none">
<path d="M25.5 56.199999999999996V192M25.5 194.4V340.3"/>
<path d="M237.4 56.199999999999996V195.1M237.4 200.3V342.7"/>
<path d="M25.5 56.8H237.4" stroke-width="1.25"/>
<path d="M25.5 339.7H237.4" stroke-width="1.2"/>
<path d="M36.5 54.699999999999996V59.199999999999996M36.5 341.59999999999997V337.8M54.7 54.699999999999996V59.699999999999996M54.7 342.09999999999997V335.9M73.0 54.699999999999996V59.199999999999996M73.0 341.59999999999997V337.8M91.3 54.699999999999996V59.699999999999996M91.3 342.09999999999997V335.9M109.5 54.699999999999996V59.199999999999996M109.5 341.59999999999997V337.8M127.8 54.699999999999996V59.699999999999996M127.8 342.09999999999997V335.9M146.1 54.699999999999996V59.199999999999996M146.1 341.59999999999997V337.8M164.3 54.699999999999996V59.699999999999996M164.3 342.09999999999997V335.9M182.6 54.699999999999996V59.199999999999996M182.6 341.59999999999997V337.8M200.9 54.699999999999996V59.699999999999996M200.9 342.09999999999997V335.9M219.1 54.699999999999996V59.199999999999996M219.1 341.59999999999997V337.8" stroke-width="1.2"/>
<path d="M21.6 63.5H29.2M233.5 63.5H241.1M21.6 99.5H29.2M233.5 99.5H241.1M21.6 136.3H29.2M233.5 136.3H241.1M21.6 202.7H29.2M233.5 202.7H241.1M21.6 232.8H29.2M233.5 232.8H241.1M21.6 262.8H29.2M233.5 262.8H241.1M21.6 293.8H29.2M233.5 293.8H241.1M237.4 172.2H241.0M237.4 324.3H240.8" stroke-width="1.1"/>
</g>
<path d="M25.5 324.3H237.4" stroke="#000" stroke-width="1.8"/>
<path d="M176.3 195.7L238.6 71.6" stroke="#000" stroke-width="1.6"/>
<path d="M91.5 180.4L214.5 144" stroke="#000" stroke-width="1.8" stroke-dasharray="2.6 3.4"/>
<path d="M187.8 138.4V159" stroke="#000" stroke-width="1.9"/><path d="M184.3 157.2L187.8 168L191.3 157.2Z" fill="#000"/>
<path d="M63 292.5V308" stroke="#000" stroke-width="1.6"/><path d="M60.5 306.6L63 317.2L65.5 306.6Z" fill="#000"/>
<g fill="#fff" stroke="#222" stroke-width="1.1">
<rect x="63.8" y="94.9" width="85" height="20.2"/>
<rect x="138.3" y="269.5" width="87.7" height="19.5"/>
<rect x="170.2" y="108.5" width="37.4" height="16.3" rx="1.2"/>
</g>
<circle cx="81.4" cy="105.7" r="3.7" fill="none" stroke="#d84fae" stroke-width="1"/>
<g class="s" fill="#000" stroke="#000" stroke-width="0.25">
<text x="95.7" y="110.3" font-size="14.8" textLength="49.3" lengthAdjust="spacingAndGlyphs">D2 lamp</text>
<text x="170.1" y="284.5" font-size="14" textLength="48.3" lengthAdjust="spacingAndGlyphs">Xe lamp</text>
<text x="173.3" y="120.9" font-size="11.4" textLength="31.6" lengthAdjust="spacingAndGlyphs">7.65eV</text>
<text x="187.2" y="101.8" font-size="15.3" font-style="italic">I</text>
<text x="56" y="277.8" font-size="16" font-style="italic">I<tspan font-size="13.5" dy="5">t</tspan></text>
</g>
<rect x="352.2" y="186.2" width="102.2" height="77.4" fill="url(#g)"/>
<rect x="352.2" y="263.6" width="102.2" height="52" fill="#db9531"/>
<g stroke="#000" fill="none">
<path d="M327 93.9H352.2V315.6M454.4 315.6V94H492.9" stroke-width="1.7"/>
<path d="M352.2 161.5H459.2M464 161.5H471.6" stroke-width="1.4"/>
<path d="M314.4 185.7H352.2" stroke-width="1.6"/>
<path d="M352.2 263.7H461.7M467.7 263.7H474.4M480.4 263.7H486.8" stroke-width="2"/>
<path d="M340.1 94.2V185.2" stroke-width="2.4"/><path d="M336.6 101.10000000000001Q338.875 97.995 340.1 95.9Q341.32500000000005 97.995 343.6 101.10000000000001" stroke-width="1.9" stroke-linecap="round"/><path d="M336.6 178.29999999999998Q338.875 181.405 340.1 183.5Q341.32500000000005 181.405 343.6 178.29999999999998" stroke-width="1.9" stroke-linecap="round"/>
<path d="M465.3 94.2V161.3" stroke-width="2.4"/><path d="M461.90000000000003 101.0Q464.11 97.94 465.3 95.9Q466.49 97.94 468.7 101.0" stroke-width="1.9" stroke-linecap="round"/><path d="M461.90000000000003 154.5Q464.11 157.56 465.3 159.60000000000002Q466.49 157.56 468.7 154.5" stroke-width="1.9" stroke-linecap="round"/>
<path d="M465.3 161.7V264.6" stroke-width="2.4"/><path d="M461.90000000000003 168.5Q464.11 165.44 465.3 163.39999999999998Q466.49 165.44 468.7 168.5" stroke-width="1.9" stroke-linecap="round"/><path d="M461.90000000000003 257.8Q464.11 260.86 465.3 262.90000000000003Q466.49 260.86 468.7 257.8" stroke-width="1.9" stroke-linecap="round"/>
<path d="M480.7 94.2V264.6" stroke-width="1.5"/><path d="M477.4 100.60000000000001Q479.545 97.72 480.7 95.9Q481.85499999999996 97.72 484.0 100.60000000000001" stroke-width="1.5" stroke-linecap="round"/><path d="M477.4 258.20000000000005Q479.545 261.08000000000004 480.7 262.90000000000003Q481.85499999999996 261.08000000000004 484.0 258.20000000000005" stroke-width="1.5" stroke-linecap="round"/>
</g>
<rect x="432" y="111.8" width="36" height="21.7" fill="#fff"/>
<rect x="459" y="209.7" width="94" height="22.7" fill="#fff"/>
<g class="r" fill="#000" stroke="#000" stroke-width="0.4">
<text x="298.3" y="153.9" font-size="13.1" textLength="36.8" lengthAdjust="spacingAndGlyphs">4.21 eV</text>
<text x="378.6" y="155.2" font-size="14.6" textLength="42.5" lengthAdjust="spacingAndGlyphs">LUMO</text>
<text x="494.8" y="98.4" font-size="13.8" textLength="22.8" lengthAdjust="spacingAndGlyphs">V.L.</text>
<text x="433.3" y="127.5" font-size="12.8" textLength="31.2" lengthAdjust="spacingAndGlyphs">3.6 eV</text>
<text y="178.6" font-size="14.2"><tspan x="486.8" textLength="5.3" lengthAdjust="spacingAndGlyphs">I</tspan><tspan x="495" textLength="5.4" lengthAdjust="spacingAndGlyphs">=</tspan><tspan x="503.9" textLength="24.1" lengthAdjust="spacingAndGlyphs">7.65</tspan><tspan x="531.7" textLength="17.1" lengthAdjust="spacingAndGlyphs">eV</tspan></text>
<text x="260.4" y="191.2" font-size="14.4" textLength="43.6" lengthAdjust="spacingAndGlyphs"><tspan font-style="italic">E</tspan><tspan font-style="italic" font-size="8.5" dy="2.6">F</tspan><tspan dy="-2.6">(sub)</tspan></text>
<text x="461.6" y="224.8" font-size="12" textLength="91" lengthAdjust="spacingAndGlyphs"><tspan font-style="italic">E</tspan><tspan font-style="italic" font-size="8.4" dy="2.4">g</tspan><tspan dy="-2.4"> (</tspan><tspan font-style="italic">opt</tspan>) = 4.05 eV</text>
<text x="377.8" y="279.6" font-size="14.4" textLength="46.4" lengthAdjust="spacingAndGlyphs">HOMO</text>
</g>
</svg></body></html>
